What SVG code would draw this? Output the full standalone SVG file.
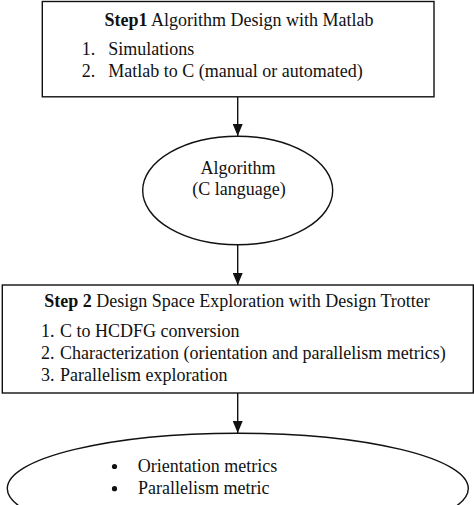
<svg xmlns="http://www.w3.org/2000/svg" width="474" height="505" viewBox="0 0 474 505">
<style>
.t{font-family:"Liberation Serif","Times New Roman",serif;font-size:18px;fill:#111}
.b{font-weight:bold}
.shape{fill:#fff;stroke:#111;stroke-width:1.4}
.conn{stroke:#111;stroke-width:1.4;fill:none}
</style>
<defs>
<marker id="arr" markerWidth="12" markerHeight="10" refX="12" refY="5" orient="auto" markerUnits="userSpaceOnUse" viewBox="0 0 12 10">
<path d="M0,0 L12,5 L0,10 Z" fill="#111"/>
</marker>
</defs>
<rect width="474" height="505" fill="#fff"/>
<g id="connectors">
<line class="conn" x1="237.7" y1="97" x2="237.7" y2="136" marker-end="url(#arr)"/>
<line class="conn" x1="237.7" y1="245" x2="237.7" y2="285" marker-end="url(#arr)"/>
<line class="conn" x1="237.7" y1="393" x2="237.7" y2="433" marker-end="url(#arr)"/>
</g>
<g id="step1">
<rect class="shape" x="42.3" y="1.5" width="391.7" height="95.3"/>
<text class="t" x="239" y="25.5" text-anchor="middle"><tspan class="b">Step1</tspan> Algorithm Design with Matlab</text>
<text class="t" x="81.7" y="55">1.</text>
<text class="t" x="108.3" y="55">Simulations</text>
<text class="t" x="81.7" y="77">2.</text>
<text class="t" x="108.3" y="77">Matlab to C (manual or automated)</text>
</g>
<g id="algorithm">
<ellipse class="shape" cx="237.7" cy="190.5" rx="95" ry="54.3"/>
<text class="t" x="238" y="174" text-anchor="middle">Algorithm</text>
<text class="t" x="239" y="194.5" text-anchor="middle">(C language)</text>
</g>
<g id="step2">
<rect class="shape" x="2.3" y="285" width="471" height="108"/>
<text class="t" x="237" y="307" text-anchor="middle"><tspan class="b">Step 2</tspan> Design Space Exploration with Design Trotter</text>
<text class="t" x="41" y="337">1.</text>
<text class="t" x="60" y="337">C to HCDFG conversion</text>
<text class="t" x="41" y="359">2.</text>
<text class="t" x="60" y="359">Characterization (orientation and parallelism metrics)</text>
<text class="t" x="41" y="381">3.</text>
<text class="t" x="60" y="381">Parallelism exploration</text>
</g>
<g id="metrics">
<ellipse class="shape" cx="237.8" cy="488.5" rx="230.5" ry="55.3"/>
<circle cx="114.5" cy="466.5" r="2.6" fill="#111"/>
<text class="t" x="137.7" y="471.7">Orientation metrics</text>
<circle cx="114.5" cy="488.7" r="2.6" fill="#111"/>
<text class="t" x="138" y="493.5">Parallelism metric</text>
</g>
</svg>
